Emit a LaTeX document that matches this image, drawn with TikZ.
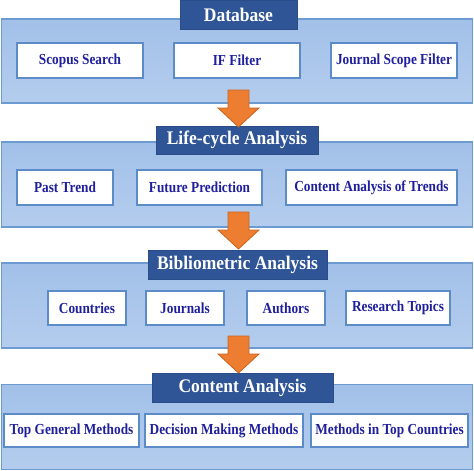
\documentclass[tikz,border=0pt]{standalone}
\usepackage{graphicx}
\usepackage{fontspec}
\setmainfont{Liberation Serif}
\definecolor{panelA}{HTML}{A2C0E8}
\definecolor{panelB}{HTML}{B4CDEE}
\definecolor{panelLine}{HTML}{6C9BD2}
\definecolor{titleFill}{HTML}{2F5597}
\definecolor{titleLine}{HTML}{2A4C88}
\definecolor{boxLine}{HTML}{5B8CC8}
\definecolor{boxText}{HTML}{1F1F9E}
\definecolor{arrowFill}{HTML}{ED7D31}
\definecolor{arrowLine}{HTML}{C8641E}
\newcommand{\tallit}[1]{\scalebox{1}[1.15]{#1}}
\newcommand{\talltt}[1]{\scalebox{1}[1.1]{#1}}
\tikzset{
  panel/.style={draw=panelLine, line width=1.5pt, top color=panelA, bottom color=panelB, minimum width=471pt, inner sep=0pt},
  titlebox/.style={draw=titleLine, fill=titleFill, line width=0.8pt, text=white, inner sep=0pt,
    font=\bfseries\fontsize{17.5}{20}\selectfont},
  itembox/.style={draw=boxLine, fill=white, line width=1.3pt, text=boxText, inner sep=0pt,
    font=\bfseries\fontsize{13.3}{16}\selectfont},
  bigarrow/.style={draw=arrowLine, fill=arrowFill, line width=0.8pt, line join=miter}
}
\newcommand{\downarrowshape}[1]{%
  \draw[bigarrow, shift={(#1)}] (0,0) -- (-20.5,-19) -- (-10.5,-19) -- (-10.5,-37) -- (10.5,-37) -- (10.5,-19) -- (20.5,-19) -- cycle;}
\begin{document}
\begin{tikzpicture}[x=1pt,y=-1pt]
\useasboundingbox (0,0) rectangle (474,471);
% panels
\node[panel, minimum height=84pt] (p1) at (237,61) {};
\node[panel, minimum height=85pt] (p2) at (237,184.5) {};
\node[panel, minimum height=85pt] (p3) at (237,305.5) {};
\node[panel, minimum height=85pt] (p4) at (237,427) {};
% titles
\node[titlebox, minimum width=117pt, minimum height=29pt] (t1) at (238.5,14.5) {\talltt{Database}};
\node[titlebox, minimum width=162pt, minimum height=28pt] (t2) at (237,140) {\talltt{Life-cycle Analysis}};
\node[titlebox, minimum width=179pt, minimum height=29pt] (t3) at (237.5,264.5) {\talltt{Bibliometric Analysis}};
\node[titlebox, minimum width=181pt, minimum height=29pt] (t4) at (242.5,387.5) {\talltt{Content Analysis}};
% row 1
\node[itembox, minimum width=126pt, minimum height=35pt] (a1) at (80,60.5) {\tallit{Scopus Search}};
\node[itembox, minimum width=126pt, minimum height=35pt] (a2) at (237,60.5) {\tallit{IF Filter}};
\node[itembox, minimum width=126pt, minimum height=35pt] (a3) at (394,60.5) {\tallit{Journal Scope Filter}};
% row 2
\node[itembox, minimum width=96pt, minimum height=35pt] (b1) at (65,187.5) {\tallit{Past Trend}};
\node[itembox, minimum width=125pt, minimum height=35pt] (b2) at (199.5,187.5) {\tallit{Future Prediction}};
\node[itembox, minimum width=171pt, minimum height=35pt] (b3) at (371.5,187.5) {\tallit{Content Analysis of Trends}};
% row 3
\node[itembox, minimum width=78pt, minimum height=34pt] (c1) at (87,308) {\tallit{Countries}};
\node[itembox, minimum width=78pt, minimum height=34pt] (c2) at (185,308) {\tallit{Journals}};
\node[itembox, minimum width=78pt, minimum height=34pt] (c3) at (286,308) {\tallit{Authors}};
\node[itembox, minimum width=104pt, minimum height=34pt] (c4) at (398,308) {\tallit{Research Topics}};
% row 4
\node[itembox, minimum width=135pt, minimum height=33pt] (d1) at (71.5,430.5) {\tallit{Top General Methods}};
\node[itembox, minimum width=158pt, minimum height=33pt] (d2) at (224,430.5) {\tallit{Decision Making Methods}};
\node[itembox, minimum width=157pt, minimum height=33pt] (d3) at (389.5,430.5) {\tallit{Methods in Top Countries}};
% arrows
\coordinate (tip1) at (238.5,127);
\coordinate (tip2) at (238.5,249);
\coordinate (tip3) at (238.5,373);
\downarrowshape{tip1}
\downarrowshape{tip2}
\downarrowshape{tip3}
\end{tikzpicture}
\end{document}
